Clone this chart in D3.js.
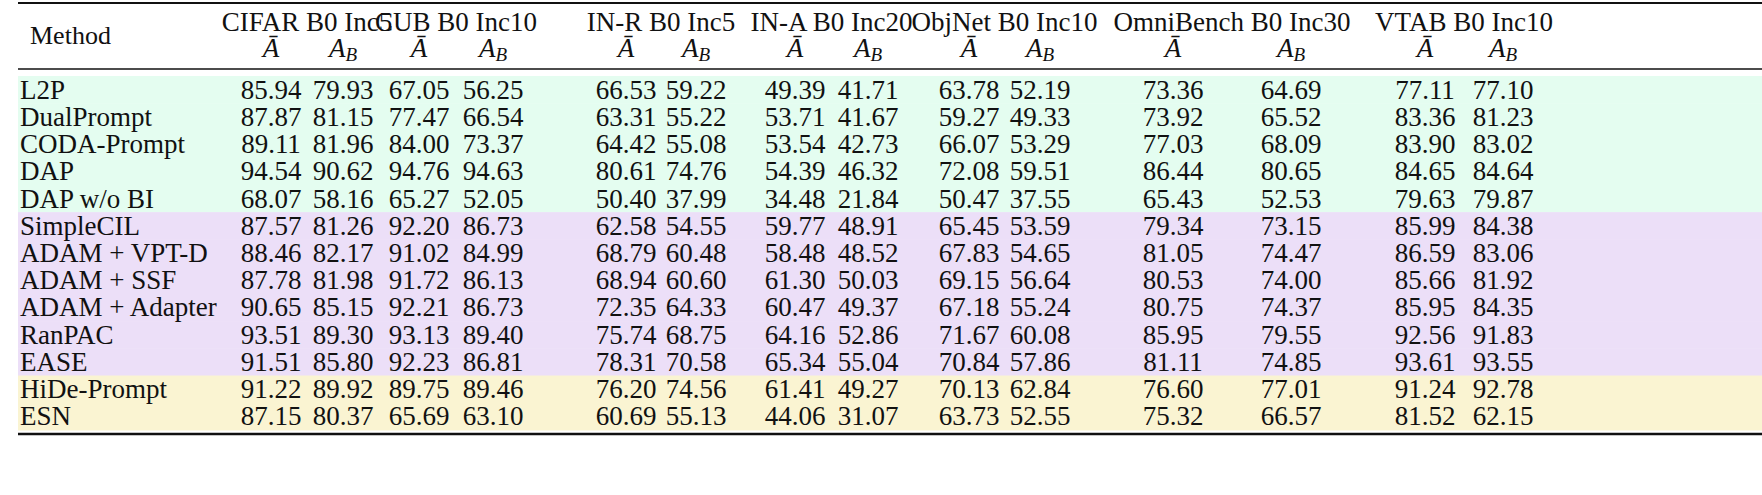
<!DOCTYPE html><html><head><meta charset="utf-8"><script src="https://d3js.org/d3.v7.min.js"></script>
<style>body{margin:0;background:#fff}text{font-family:"Liberation Serif","Times New Roman",serif;fill:#111}</style></head><body><svg id="c" width="1762" height="495"></svg><script>
const groups=["CIFAR B0 Inc5","CUB B0 Inc10","IN-R B0 Inc5","IN-A B0 Inc20","ObjNet B0 Inc10","OmniBench B0 Inc30","VTAB B0 Inc10"];
const methods=["L2P","DualPrompt","CODA-Prompt","DAP","DAP w/o BI","SimpleCIL","ADAM + VPT-D","ADAM + SSF","ADAM + Adapter","RanPAC","EASE","HiDe-Prompt","ESN"];
const rowGroup=[0,0,0,0,0,1,1,1,1,1,1,2,2];
const values=[
[85.94,79.93,67.05,56.25,66.53,59.22,49.39,41.71,63.78,52.19,73.36,64.69,77.11,77.10],
[87.87,81.15,77.47,66.54,63.31,55.22,53.71,41.67,59.27,49.33,73.92,65.52,83.36,81.23],
[89.11,81.96,84.00,73.37,64.42,55.08,53.54,42.73,66.07,53.29,77.03,68.09,83.90,83.02],
[94.54,90.62,94.76,94.63,80.61,74.76,54.39,46.32,72.08,59.51,86.44,80.65,84.65,84.64],
[68.07,58.16,65.27,52.05,50.40,37.99,34.48,21.84,50.47,37.55,65.43,52.53,79.63,79.87],
[87.57,81.26,92.20,86.73,62.58,54.55,59.77,48.91,65.45,53.59,79.34,73.15,85.99,84.38],
[88.46,82.17,91.02,84.99,68.79,60.48,58.48,48.52,67.83,54.65,81.05,74.47,86.59,83.06],
[87.78,81.98,91.72,86.13,68.94,60.60,61.30,50.03,69.15,56.64,80.53,74.00,85.66,81.92],
[90.65,85.15,92.21,86.73,72.35,64.33,60.47,49.37,67.18,55.24,80.75,74.37,85.95,84.35],
[93.51,89.30,93.13,89.40,75.74,68.75,64.16,52.86,71.67,60.08,85.95,79.55,92.56,91.83],
[91.51,85.80,92.23,86.81,78.31,70.58,65.34,55.04,70.84,57.86,81.11,74.85,93.61,93.55],
[91.22,89.92,89.75,89.46,76.20,74.56,61.41,49.27,70.13,62.84,76.60,77.01,91.24,92.78],
[87.15,80.37,65.69,63.10,60.69,55.13,44.06,31.07,63.73,52.55,75.32,66.57,81.52,62.15]];
const colCenters=[271,343,419,493,626,696,795,868,969,1040,1173,1291,1425,1503];
const bandColors=["#e4fdf0","#ecdff8","#faf4d2"];
const svg=d3.select("#c");
const y=d3.scaleBand().domain(d3.range(methods.length)).range([76,430]);
const fs=27;
methods.forEach((m,i)=>svg.append("rect").attr("x",18).attr("y",y(i)).attr("width",1744).attr("height",y.bandwidth()+0.5).attr("fill",bandColors[rowGroup[i]]));
svg.append("line").attr("x1",18).attr("x2",1762).attr("y1",3).attr("y2",3).attr("stroke","#111").attr("stroke-width",2);
svg.append("line").attr("x1",18).attr("x2",1762).attr("y1",69).attr("y2",69).attr("stroke","#111").attr("stroke-width",1.3);
svg.append("line").attr("x1",18).attr("x2",1762).attr("y1",434).attr("y2",434).attr("stroke","#111").attr("stroke-width",2.5);
svg.append("text").attr("x",30).attr("y",44).attr("font-size",26).text("Method");
groups.forEach((g,k)=>svg.append("text").attr("x",(colCenters[2*k]+colCenters[2*k+1])/2).attr("y",31).attr("text-anchor","middle").attr("font-size",fs).text(g));
colCenters.forEach((cx,j)=>{
 const t=svg.append("text").attr("x",cx).attr("y",57).attr("text-anchor","middle").attr("font-size",fs).attr("font-style","italic");
 if(j%2===0){t.text("A\u0304");}
 else{t.append("tspan").text("A");t.append("tspan").attr("font-size",19).attr("dy",4).text("B");}
});
methods.forEach((m,i)=>{
 const by=y(i)+y.bandwidth()/2+9;
 svg.append("text").attr("x",20).attr("y",by).attr("font-size",fs).text(m);
 values[i].forEach((v,j)=>svg.append("text").attr("x",colCenters[j]).attr("y",by).attr("text-anchor","middle").attr("font-size",fs).text(v.toFixed(2)));
});
</script></body></html>
